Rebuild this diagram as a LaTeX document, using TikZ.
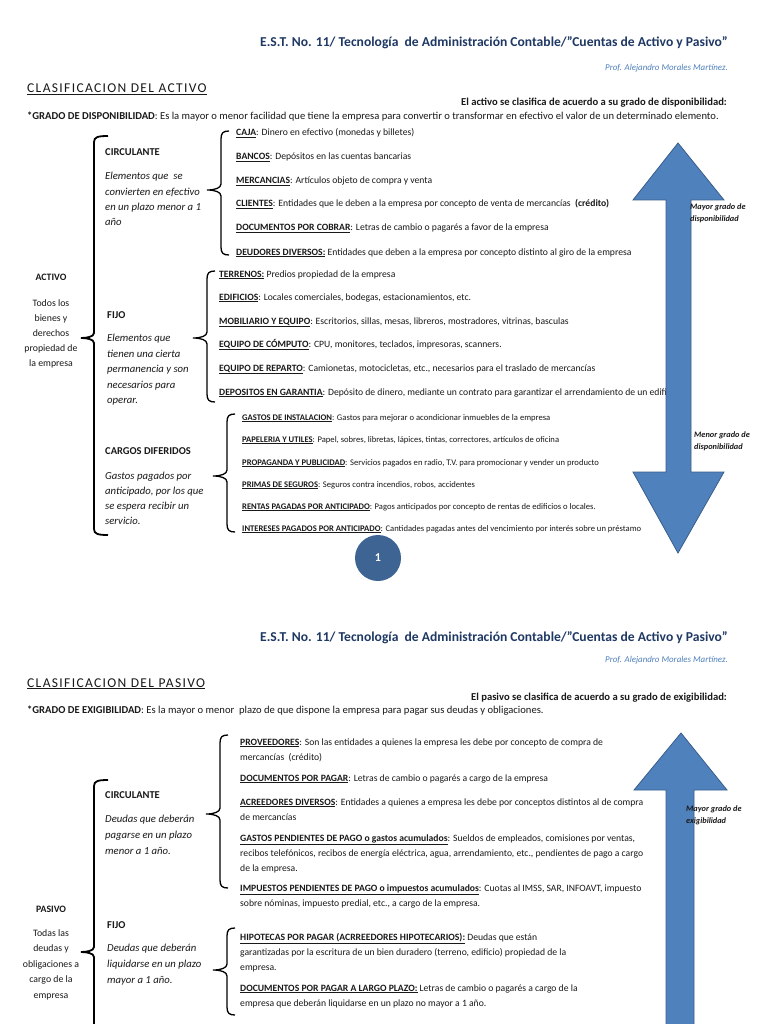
\documentclass[tikz,border=0pt]{standalone}
\usepackage{fontspec}
\setmainfont{Carlito}
\definecolor{titleblue}{RGB}{31,56,100}
\definecolor{profblue}{RGB}{79,129,189}
\definecolor{arrfill}{RGB}{79,129,189}
\definecolor{arrline}{RGB}{56,93,138}
\definecolor{circfill}{RGB}{62,100,148}
\newcommand\ul[1]{\underline{#1}}
\newcommand\bu[1]{\underline{\textbf{#1}}}
\newcommand\cbr[4]{\draw[line width=1.3pt] (#1+8,#2) .. controls (#1+2,#2) and (#1,#2+2) .. (#1,#2+8) -- (#1,#3-6) .. controls (#1,#3-2) and (#1-6,#3) .. (#1-14,#3) .. controls (#1-6,#3) and (#1,#3+2) .. (#1,#3+6) -- (#1,#4-8) .. controls (#1,#4-2) and (#1+2,#4) .. (#1+8,#4);}
\newcommand\bbr[4]{\draw[line width=1.8pt] (#1+14,#2) .. controls (#1+4,#2) and (#1,#2+1) .. (#1,#2+6) -- (#1,#3-5) .. controls (#1,#3-1) and (#1-8,#3) .. (#1-13,#3) .. controls (#1-8,#3) and (#1,#3+1) .. (#1,#3+5) -- (#1,#4-6) .. controls (#1,#4-1) and (#1+4,#4) .. (#1+14,#4);}
\begin{document}
\begin{tikzpicture}[x=1pt,y=-1pt,
  every node/.style={inner sep=0pt, text=black!90},
  ttl/.style={anchor=base east, font=\fontsize{13.6}{15}\selectfont\bfseries, text=titleblue},
  prof/.style={anchor=base east, font=\fontsize{8.9}{10}\selectfont\itshape, text=profblue},
  sect/.style={anchor=base west, font=\fontsize{13.5}{15}\selectfont\addfontfeatures{LetterSpace=10}},
  intro/.style={font=\fontsize{10.6}{12}\selectfont},
  hd/.style={anchor=base west, font=\fontsize{10.5}{12}\selectfont\bfseries},
  desc/.style={anchor=base west, font=\fontsize{10.7}{12}\selectfont\itshape},
  main/.style={anchor=base, font=\fontsize{9.8}{11}\selectfont},
  itm/.style={anchor=base west, font=\fontsize{9.65}{11}\selectfont},
  sitm/.style={anchor=base west, font=\fontsize{8.6}{10}\selectfont},
  side/.style={anchor=base west, font=\fontsize{8.3}{10}\selectfont\bfseries\itshape},
  bigarrow/.style={fill=arrfill, draw=arrline, line width=0.8pt, line join=miter}]
\useasboundingbox[fill=white] (0,0) rectangle (768,1024);

% ================= PAGE 1 =================
\node[ttl] (t1) at (728,47) {E.S.T. No. 11/ Tecnología\ \ de Administración Contable/”Cuentas de Activo y Pasivo”};
\node[prof] (p1) at (728,71) {Prof. Alejandro Morales Martínez.};
\node[sect] (s1) at (27,93) {\ul{CLASIFICACION DEL ACTIVO}};
\node[intro, anchor=base east] (i1a) at (727,105.5) {\textbf{El activo se clasifica de acuerdo a su grado de disponibilidad:}};
\node[intro, anchor=base west] (i1b) at (27,119.5) {\textbf{*GRADO DE DISPONIBILIDAD}: Es la mayor o menor facilidad que tiene la empresa para convertir o transformar en efectivo el valor de un determinado elemento.};

% ACTIVO
\node[main, font=\fontsize{9.8}{11}\selectfont\bfseries] (act) at (51,280.5) {ACTIVO};
\node[main] (a1) at (51,306.5) {Todos los};
\node[main] (a2) at (51,321.5) {bienes y};
\node[main] (a3) at (51,336.5) {derechos};
\node[main] (a4) at (51,351.5) {propiedad de};
\node[main] (a5) at (51,366.5) {la empresa};
\bbr{94}{136}{338}{535}

% CIRCULANTE
\node[hd] (c1) at (105,155.5) {CIRCULANTE};
\node[desc] (c1a) at (105,179.5) {Elementos que\ \ se};
\node[desc] (c1b) at (105,195.5) {convierten en efectivo};
\node[desc] (c1c) at (105,210.5) {en un plazo menor a 1};
\node[desc] (c1d) at (105,225.5) {año};
\cbr{221}{131}{190}{255}
\node[itm] (ci1) at (236,136) {\bu{CAJA}: Dinero en efectivo (monedas y billetes)};
\node[itm] (ci2) at (236,160) {\bu{BANCOS}: Depósitos en las cuentas bancarias};
\node[itm] (ci3) at (236,184) {\bu{MERCANCIAS}: Artículos objeto de compra y venta};
\node[itm] (ci4) at (236,207) {\bu{CLIENTES}: Entidades que le deben a la empresa por concepto de venta de mercancías\ \ \textbf{(crédito)}};
\node[itm] (ci5) at (236,231) {\bu{DOCUMENTOS POR COBRAR}: Letras de cambio o pagarés a favor de la empresa};
\node[itm] (ci6) at (236,255) {\bu{DEUDORES DIVERSOS:} Entidades que deben a la empresa por concepto distinto al giro de la empresa};

% FIJO
\node[hd] (f1) at (107,318) {FIJO};
\node[desc] (f1a) at (107,341.5) {Elementos que};
\node[desc] (f1b) at (107,357) {tienen una cierta};
\node[desc] (f1c) at (107,372.5) {permanencia y son};
\node[desc] (f1d) at (107,388) {necesarios para};
\node[desc] (f1e) at (107,403.5) {operar.};
\cbr{207}{271}{338}{402}
\node[itm] (fi1) at (219,277) {\bu{TERRENOS:} Predios propiedad de la empresa};
\node[itm] (fi2) at (219,300) {\bu{EDIFICIOS}: Locales comerciales, bodegas, estacionamientos, etc.};
\node[itm] (fi3) at (219,324) {\bu{MOBILIARIO Y EQUIPO}: Escritorios, sillas, mesas, libreros, mostradores, vitrinas, basculas};
\node[itm] (fi4) at (219,347) {\bu{EQUIPO DE CÓMPUTO}: CPU, monitores, teclados, impresoras, scanners.};
\node[itm] (fi5) at (219,371) {\bu{EQUIPO DE REPARTO}: Camionetas, motocicletas, etc., necesarios para el traslado de mercancías};
\begin{scope}
\clip (200,380) rectangle (667,400);
\node[itm] (fi6) at (219,395) {\bu{DEPOSITOS EN GARANTIA}: Depósito de dinero, mediante un contrato para garantizar el arrendamiento de un edificio};
\end{scope}

% CARGOS DIFERIDOS
\node[hd] (g1) at (105,454.5) {CARGOS DIFERIDOS};
\node[desc] (g1a) at (105,479.5) {Gastos pagados por};
\node[desc] (g1b) at (105,494.5) {anticipado, por los que};
\node[desc] (g1c) at (105,509.5) {se espera recibir un};
\node[desc] (g1d) at (105,524.5) {servicio.};
\cbr{227}{414}{476}{532}
\node[sitm] (gi1) at (242,420) {\bu{GASTOS DE INSTALACION}: Gastos para mejorar o acondicionar inmuebles de la empresa};
\node[sitm] (gi2) at (242,442) {\bu{PAPELERIA Y UTILES}: Papel, sobres, libretas, lápices, tintas, correctores, artículos de oficina};
\node[sitm] (gi3) at (242,465) {\bu{PROPAGANDA Y PUBLICIDAD}: Servicios pagados en radio, T.V. para promocionar y vender un producto};
\node[sitm] (gi4) at (242,487) {\bu{PRIMAS DE SEGUROS}: Seguros contra incendios, robos, accidentes};
\node[sitm] (gi5) at (242,509) {\bu{RENTAS PAGADAS POR ANTICIPADO}: Pagos anticipados por concepto de rentas de edificios o locales.};
\node[sitm] (gi6) at (242,531) {\bu{INTERESES PAGADOS POR ANTICIPADO}: Cantidades pagadas antes del vencimiento por interés sobre un préstamo};

% arrow page 1
\draw[bigarrow] (678,143) -- (724,200) -- (691,200) -- (691,472) -- (724,472) -- (678,553) -- (633,472) -- (666,472) -- (666,200) -- (633,200) -- cycle;
\node[side] (m1a) at (690,210) {Mayor grado de};
\node[side] (m1b) at (690,222) {disponibilidad};
\node[side] (m1c) at (694,437) {Menor grado de};
\node[side] (m1d) at (694,449) {disponibilidad};

% page number
\node[circle, fill=circfill, minimum size=46pt, text=white, font=\fontsize{12}{14}\selectfont\bfseries] (pg1) at (378,558) {1};

% ================= PAGE 2 =================
\node[ttl] (t2) at (728,641) {E.S.T. No. 11/ Tecnología\ \ de Administración Contable/”Cuentas de Activo y Pasivo”};
\node[prof] (p2) at (728,662) {Prof. Alejandro Morales Martínez.};
\node[sect] (s2) at (27,687) {\ul{CLASIFICACION DEL PASIVO}};
\node[intro, anchor=base east] (i2a) at (727,700.5) {\textbf{El pasivo se clasifica de acuerdo a su grado de exigibilidad:}};
\node[intro, anchor=base west] (i2b) at (27,713.5) {\textbf{*GRADO DE EXIGIBILIDAD}: Es la mayor o menor\ \ plazo de que dispone la empresa para pagar sus deudas y obligaciones.};

% PASIVO
\node[main, font=\fontsize{9.8}{11}\selectfont\bfseries] (pas) at (51,912.5) {PASIVO};
\node[main] (b1) at (51,936.5) {Todas las};
\node[main] (b2) at (51,951.5) {deudas y};
\node[main] (b3) at (51,967.5) {obligaciones a};
\node[main] (b4) at (51,982.5) {cargo de la};
\node[main] (b5) at (51,998.5) {empresa};
\begin{scope}
\clip (0,0) rectangle (768,1024);
\bbr{94}{780}{952}{1060}
\end{scope}

% CIRCULANTE pasivo
\node[hd] (c2) at (105,798.5) {CIRCULANTE};
\node[desc] (c2a) at (105,822.5) {Deudas que deberán};
\node[desc] (c2b) at (105,838.5) {pagarse en un plazo};
\node[desc] (c2c) at (105,854.5) {menor a 1 año.};
\cbr{220}{735}{814}{888}
\node[itm] (pi1) at (240,745) {\bu{PROVEEDORES}: Son las entidades a quienes la empresa les debe por concepto de compra de};
\node[itm] (pi1b) at (240,760) {mercancías\ \ (crédito)};
\node[itm] (pi2) at (240,781) {\bu{DOCUMENTOS POR PAGAR}: Letras de cambio o pagarés a cargo de la empresa};
\node[itm] (pi3) at (240,805) {\bu{ACREEDORES DIVERSOS}: Entidades a quienes a empresa les debe por conceptos distintos al de compra};
\node[itm] (pi3b) at (240,820) {de mercancías};
\node[itm] (pi4) at (240,841) {\bu{GASTOS PENDIENTES DE PAGO o gastos acumulados}: Sueldos de empleados, comisiones por ventas,};
\node[itm] (pi4b) at (240,856) {recibos telefónicos, recibos de energía eléctrica, agua, arrendamiento, etc., pendientes de pago a cargo};
\node[itm] (pi4c) at (240,871) {de la empresa.};
\node[itm] (pi5) at (240,891) {\bu{IMPUESTOS PENDIENTES DE PAGO o impuestos acumulados}: Cuotas al IMSS, SAR, INFOAVT, impuesto};
\node[itm] (pi5b) at (240,906) {sobre nóminas, impuesto predial, etc., a cargo de la empresa.};

% FIJO pasivo
\node[hd] (f2) at (107,928.5) {FIJO};
\node[desc] (f2a) at (107,951.5) {Deudas que deberán};
\node[desc] (f2b) at (107,967.5) {liquidarse en un plazo};
\node[desc] (f2c) at (107,983.5) {mayor a 1 año.};
\cbr{227}{928}{970}{1015}
\node[itm] (qi1) at (240,940) {\bu{HIPOTECAS POR PAGAR (ACRREEDORES HIPOTECARIOS):} Deudas que están};
\node[itm] (qi1b) at (240,955) {garantizadas por la escritura de un bien duradero (terreno, edificio) propiedad de la};
\node[itm] (qi1c) at (240,970) {empresa.};
\node[itm] (qi2) at (240,991) {\bu{DOCUMENTOS POR PAGAR A LARGO PLAZO:} Letras de cambio o pagarés a cargo de la};
\node[itm] (qi2b) at (240,1006) {empresa que deberán liquidarse en un plazo no mayor a 1 año.};

% arrow page 2
\begin{scope}
\clip (0,0) rectangle (768,1024);
\draw[bigarrow] (681,733) -- (727,790) -- (694,790) -- (694,1040) -- (666,1040) -- (666,790) -- (634,790) -- cycle;
\end{scope}
\node[side] (m2a) at (686,811) {Mayor grado de};
\node[side] (m2b) at (686,823) {exigibilidad};
\end{tikzpicture}
\end{document}
